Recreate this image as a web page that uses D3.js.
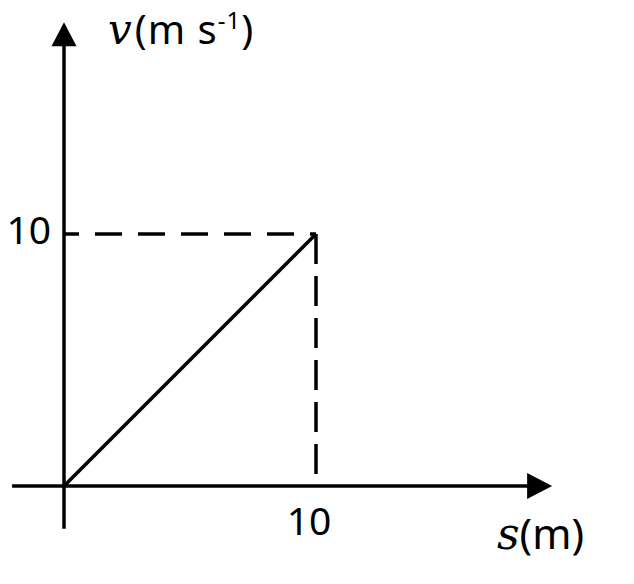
<!DOCTYPE html>
<html>
<head>
<meta charset="utf-8">
<script src="https://cdn.jsdelivr.net/npm/d3@7"></script>
<style>
  body { margin: 0; background: white; }
  svg text { font-family: "Noto Sans", "Open Sans", sans-serif; fill: black; }
</style>
</head>
<body>
<div id="wrapper"></div>
<script>
// data
var lineS = [0, 10];
var lineV = [0, 10];
var xTicks = [10];
var yTicks = [10];
var cornerPoint = {s: 10, v: 10};
var xLabel = ["s", "(m)"];
var yLabel = ["v", "(m s", "-1", ")"];

var width = 634, height = 584;
var sw = 3.5;

var svg = d3.select("#wrapper")
    .append("svg")
    .attr("width", width)
    .attr("height", height);

// scales: origin at (64,486), 10 units = 252px
var x = d3.scaleLinear().domain([0, 10]).range([64, 316]);
var y = d3.scaleLinear().domain([0, 10]).range([486, 234]);

// axis extents (in data units)
var xMin = -2.06, xMax = 19.37;
var yMin = -1.7, yMax = 18.4;

var line = d3.line().x(d => x(d.s)).y(d => y(d.v));
var pts = lineS.map((s, i) => ({s: s, v: lineV[i]}));

// dashed guides
svg.append("line")
    .attr("x1", x(0)).attr("y1", y(cornerPoint.v))
    .attr("x2", x(cornerPoint.s)).attr("y2", y(cornerPoint.v))
    .attr("stroke", "black")
    .attr("stroke-width", sw)
    .attr("stroke-dasharray", "27,16")
    .attr("stroke-dashoffset", 12);

svg.append("line")
    .attr("x1", x(cornerPoint.s)).attr("y1", y(cornerPoint.v))
    .attr("x2", x(cornerPoint.s)).attr("y2", y(0))
    .attr("stroke", "black")
    .attr("stroke-width", sw)
    .attr("stroke-dasharray", "30,12");

// solid line
svg.append("path")
    .datum(pts)
    .attr("d", line)
    .attr("fill", "none")
    .attr("stroke", "black")
    .attr("stroke-width", sw);

// x axis
svg.append("line")
    .attr("x1", x(xMin)).attr("y1", y(0))
    .attr("x2", x(xMax) - 20).attr("y2", y(0))
    .attr("stroke", "black")
    .attr("stroke-width", sw);
svg.append("path")
    .attr("d", "M" + x(xMax) + "," + y(0) + " L" + (x(xMax) - 25) + "," + (y(0) - 13) + " L" + (x(xMax) - 25) + "," + (y(0) + 13) + " Z")
    .attr("fill", "black");

// y axis
svg.append("line")
    .attr("x1", x(0)).attr("y1", y(yMin))
    .attr("x2", x(0)).attr("y2", y(yMax) + 20)
    .attr("stroke", "black")
    .attr("stroke-width", sw);
svg.append("path")
    .attr("d", "M" + x(0) + "," + y(yMax) + " L" + (x(0) - 12.5) + "," + (y(yMax) + 24) + " L" + (x(0) + 12.5) + "," + (y(yMax) + 24) + " Z")
    .attr("fill", "black");

// tick labels
svg.selectAll("text.xtick")
    .data(xTicks)
    .enter()
    .append("text")
    .attr("class", "xtick")
    .attr("x", d => x(d) - 7)
    .attr("y", 535)
    .attr("text-anchor", "middle")
    .attr("font-size", 39)
    .text(d => d);

svg.selectAll("text.ytick")
    .data(yTicks)
    .enter()
    .append("text")
    .attr("class", "ytick")
    .attr("x", 51)
    .attr("y", d => y(d) + 10)
    .attr("text-anchor", "end")
    .attr("font-size", 39)
    .text(d => d);

// axis titles
var yt = svg.append("text")
    .attr("x", 108)
    .attr("y", 44)
    .attr("font-size", 40)
    .attr("letter-spacing", 1);
yt.append("tspan")
    .attr("font-family", "DejaVu Serif, serif")
    .attr("font-style", "italic")
    .attr("font-size", 42)
    .text(yLabel[0]);
yt.append("tspan").attr("dx", 2).text(yLabel[1]);
yt.append("tspan").attr("dy", -15).attr("font-size", 24).text(yLabel[2]);
yt.append("tspan").attr("dy", 15).text(yLabel[3]);

var xt = svg.append("text")
    .attr("x", 497)
    .attr("y", 549)
    .attr("font-size", 42);
xt.append("tspan")
    .attr("font-family", "DejaVu Serif, serif")
    .attr("font-style", "italic")
    .attr("font-size", 44)
    .text(xLabel[0]);
xt.append("tspan").text(xLabel[1]);
</script>
</body>
</html>
